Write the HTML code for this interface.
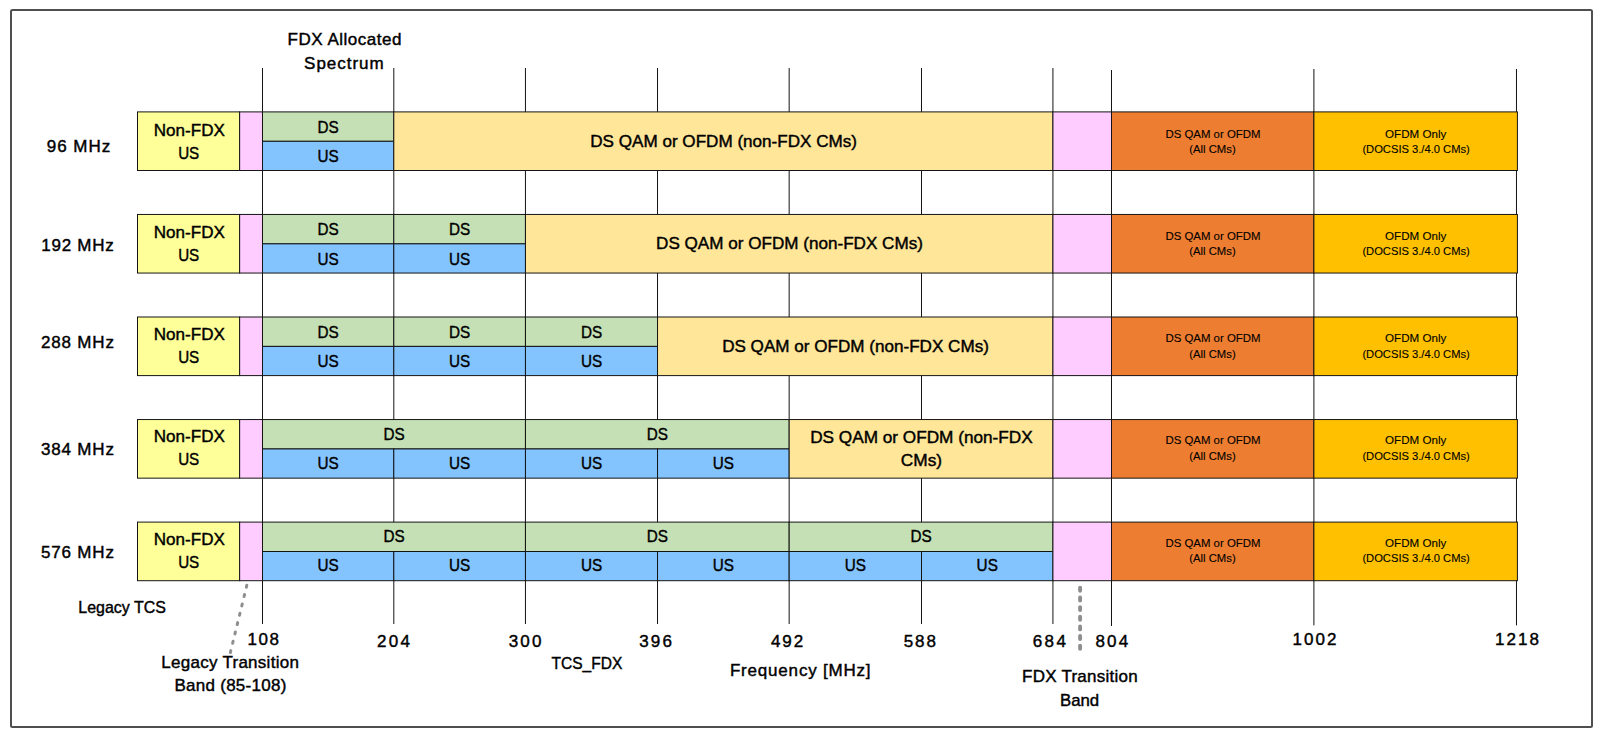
<!DOCTYPE html>
<html lang="en"><head><meta charset="utf-8"><title>FDX Allocated Spectrum</title>
<style>
html,body{margin:0;padding:0;background:#fff;}
body{width:1600px;height:737px;overflow:hidden;}
svg{display:block;}
svg text{font-family:"Liberation Sans", sans-serif;fill:#000;stroke:#000;stroke-width:0.42px;}
svg text.s{stroke-width:0.12px;}
</style></head><body>
<svg width="1600" height="737" viewBox="0 0 1600 737">
<rect x="0" y="0" width="1600" height="737" fill="#ffffff"/>
<rect x="11" y="10" width="1581" height="717" fill="none" stroke="#4f4f4f" stroke-width="2" rx="1.5"/>
<line x1="262.50" y1="68.00" x2="262.50" y2="624.00" stroke="#141414" stroke-width="1" />
<line x1="393.80" y1="68.00" x2="393.80" y2="624.00" stroke="#141414" stroke-width="1" />
<line x1="525.45" y1="68.00" x2="525.45" y2="624.00" stroke="#141414" stroke-width="1" />
<line x1="657.53" y1="68.00" x2="657.53" y2="624.00" stroke="#141414" stroke-width="1" />
<line x1="789.17" y1="68.00" x2="789.17" y2="624.00" stroke="#141414" stroke-width="1" />
<line x1="921.50" y1="68.00" x2="921.50" y2="624.00" stroke="#141414" stroke-width="1" />
<line x1="1052.93" y1="68.00" x2="1052.93" y2="624.00" stroke="#141414" stroke-width="1" />
<line x1="1111.50" y1="70.00" x2="1111.50" y2="626.00" stroke="#141414" stroke-width="1" />
<line x1="1313.90" y1="69.00" x2="1313.90" y2="625.40" stroke="#141414" stroke-width="1" />
<line x1="1516.48" y1="69.00" x2="1516.48" y2="625.40" stroke="#141414" stroke-width="1" />
<rect x="137.50" y="111.90" width="102.15" height="58.60" fill="#FFFF99" stroke="#141414" stroke-width="1"/>
<rect x="239.65" y="111.90" width="22.85" height="58.60" fill="#FFCCFF" stroke="#141414" stroke-width="1"/>
<rect x="262.50" y="111.90" width="131.30" height="29.40" fill="#C5E0B4" stroke="#141414" stroke-width="1"/>
<rect x="262.50" y="141.30" width="131.30" height="29.20" fill="#84C4FE" stroke="#141414" stroke-width="1"/>
<rect x="393.80" y="111.90" width="659.13" height="58.60" fill="#FFE699" stroke="#141414" stroke-width="1"/>
<rect x="1052.93" y="111.90" width="58.57" height="58.60" fill="#FFCCFF" stroke="#141414" stroke-width="1"/>
<rect x="1111.50" y="111.90" width="202.40" height="58.60" fill="#ED7D31" stroke="#141414" stroke-width="1"/>
<rect x="1313.90" y="111.90" width="203.50" height="58.60" fill="#FFC000" stroke="#141414" stroke-width="1"/>
<text x="153.75" y="135.60" font-size="17" textLength="71.10" lengthAdjust="spacingAndGlyphs">Non-FDX</text>
<text x="178.15" y="158.60" font-size="17" textLength="21.10" lengthAdjust="spacingAndGlyphs">US</text>
<text x="317.55" y="133.20" font-size="17" textLength="21.20" lengthAdjust="spacingAndGlyphs">DS</text>
<text x="317.55" y="162.30" font-size="17" textLength="21.20" lengthAdjust="spacingAndGlyphs">US</text>
<text x="590.26" y="147.10" font-size="17" textLength="266.80" lengthAdjust="spacingAndGlyphs">DS QAM or OFDM (non-FDX CMs)</text>
<text class="s" x="1165.45" y="137.60" font-size="11.8" textLength="95.10" lengthAdjust="spacingAndGlyphs">DS QAM or OFDM</text>
<text class="s" x="1189.35" y="153.10" font-size="11.8" textLength="46.30" lengthAdjust="spacingAndGlyphs">(All CMs)</text>
<text class="s" x="1385.10" y="137.60" font-size="11.8" textLength="61.20" lengthAdjust="spacingAndGlyphs">OFDM Only</text>
<text class="s" x="1362.40" y="153.10" font-size="11.8" textLength="107.40" lengthAdjust="spacingAndGlyphs">(DOCSIS 3./4.0 CMs)</text>
<rect x="137.50" y="214.45" width="102.15" height="58.60" fill="#FFFF99" stroke="#141414" stroke-width="1"/>
<rect x="239.65" y="214.45" width="22.85" height="58.60" fill="#FFCCFF" stroke="#141414" stroke-width="1"/>
<rect x="262.50" y="214.45" width="131.30" height="29.40" fill="#C5E0B4" stroke="#141414" stroke-width="1"/>
<rect x="393.80" y="214.45" width="131.65" height="29.40" fill="#C5E0B4" stroke="#141414" stroke-width="1"/>
<rect x="262.50" y="243.85" width="131.30" height="29.20" fill="#84C4FE" stroke="#141414" stroke-width="1"/>
<rect x="393.80" y="243.85" width="131.65" height="29.20" fill="#84C4FE" stroke="#141414" stroke-width="1"/>
<rect x="525.45" y="214.45" width="527.48" height="58.60" fill="#FFE699" stroke="#141414" stroke-width="1"/>
<rect x="1052.93" y="214.45" width="58.57" height="58.60" fill="#FFCCFF" stroke="#141414" stroke-width="1"/>
<rect x="1111.50" y="214.45" width="202.40" height="58.60" fill="#ED7D31" stroke="#141414" stroke-width="1"/>
<rect x="1313.90" y="214.45" width="203.50" height="58.60" fill="#FFC000" stroke="#141414" stroke-width="1"/>
<text x="153.75" y="237.87" font-size="17" textLength="71.10" lengthAdjust="spacingAndGlyphs">Non-FDX</text>
<text x="178.15" y="260.87" font-size="17" textLength="21.10" lengthAdjust="spacingAndGlyphs">US</text>
<text x="317.55" y="235.47" font-size="17" textLength="21.20" lengthAdjust="spacingAndGlyphs">DS</text>
<text x="449.03" y="235.47" font-size="17" textLength="21.20" lengthAdjust="spacingAndGlyphs">DS</text>
<text x="317.55" y="264.57" font-size="17" textLength="21.20" lengthAdjust="spacingAndGlyphs">US</text>
<text x="449.03" y="264.57" font-size="17" textLength="21.20" lengthAdjust="spacingAndGlyphs">US</text>
<text x="656.09" y="249.37" font-size="17" textLength="266.80" lengthAdjust="spacingAndGlyphs">DS QAM or OFDM (non-FDX CMs)</text>
<text class="s" x="1165.45" y="239.87" font-size="11.8" textLength="95.10" lengthAdjust="spacingAndGlyphs">DS QAM or OFDM</text>
<text class="s" x="1189.35" y="255.37" font-size="11.8" textLength="46.30" lengthAdjust="spacingAndGlyphs">(All CMs)</text>
<text class="s" x="1385.10" y="239.87" font-size="11.8" textLength="61.20" lengthAdjust="spacingAndGlyphs">OFDM Only</text>
<text class="s" x="1362.40" y="255.37" font-size="11.8" textLength="107.40" lengthAdjust="spacingAndGlyphs">(DOCSIS 3./4.0 CMs)</text>
<rect x="137.50" y="317.00" width="102.15" height="58.60" fill="#FFFF99" stroke="#141414" stroke-width="1"/>
<rect x="239.65" y="317.00" width="22.85" height="58.60" fill="#FFCCFF" stroke="#141414" stroke-width="1"/>
<rect x="262.50" y="317.00" width="131.30" height="29.40" fill="#C5E0B4" stroke="#141414" stroke-width="1"/>
<rect x="393.80" y="317.00" width="131.65" height="29.40" fill="#C5E0B4" stroke="#141414" stroke-width="1"/>
<rect x="525.45" y="317.00" width="132.08" height="29.40" fill="#C5E0B4" stroke="#141414" stroke-width="1"/>
<rect x="262.50" y="346.40" width="131.30" height="29.20" fill="#84C4FE" stroke="#141414" stroke-width="1"/>
<rect x="393.80" y="346.40" width="131.65" height="29.20" fill="#84C4FE" stroke="#141414" stroke-width="1"/>
<rect x="525.45" y="346.40" width="132.08" height="29.20" fill="#84C4FE" stroke="#141414" stroke-width="1"/>
<rect x="657.53" y="317.00" width="395.40" height="58.60" fill="#FFE699" stroke="#141414" stroke-width="1"/>
<rect x="1052.93" y="317.00" width="58.57" height="58.60" fill="#FFCCFF" stroke="#141414" stroke-width="1"/>
<rect x="1111.50" y="317.00" width="202.40" height="58.60" fill="#ED7D31" stroke="#141414" stroke-width="1"/>
<rect x="1313.90" y="317.00" width="203.50" height="58.60" fill="#FFC000" stroke="#141414" stroke-width="1"/>
<text x="153.75" y="340.14" font-size="17" textLength="71.10" lengthAdjust="spacingAndGlyphs">Non-FDX</text>
<text x="178.15" y="363.14" font-size="17" textLength="21.10" lengthAdjust="spacingAndGlyphs">US</text>
<text x="317.55" y="337.74" font-size="17" textLength="21.20" lengthAdjust="spacingAndGlyphs">DS</text>
<text x="449.03" y="337.74" font-size="17" textLength="21.20" lengthAdjust="spacingAndGlyphs">DS</text>
<text x="580.89" y="337.74" font-size="17" textLength="21.20" lengthAdjust="spacingAndGlyphs">DS</text>
<text x="317.55" y="366.84" font-size="17" textLength="21.20" lengthAdjust="spacingAndGlyphs">US</text>
<text x="449.03" y="366.84" font-size="17" textLength="21.20" lengthAdjust="spacingAndGlyphs">US</text>
<text x="580.89" y="366.84" font-size="17" textLength="21.20" lengthAdjust="spacingAndGlyphs">US</text>
<text x="722.13" y="351.64" font-size="17" textLength="266.80" lengthAdjust="spacingAndGlyphs">DS QAM or OFDM (non-FDX CMs)</text>
<text class="s" x="1165.45" y="342.14" font-size="11.8" textLength="95.10" lengthAdjust="spacingAndGlyphs">DS QAM or OFDM</text>
<text class="s" x="1189.35" y="357.64" font-size="11.8" textLength="46.30" lengthAdjust="spacingAndGlyphs">(All CMs)</text>
<text class="s" x="1385.10" y="342.14" font-size="11.8" textLength="61.20" lengthAdjust="spacingAndGlyphs">OFDM Only</text>
<text class="s" x="1362.40" y="357.64" font-size="11.8" textLength="107.40" lengthAdjust="spacingAndGlyphs">(DOCSIS 3./4.0 CMs)</text>
<rect x="137.50" y="419.55" width="102.15" height="58.60" fill="#FFFF99" stroke="#141414" stroke-width="1"/>
<rect x="239.65" y="419.55" width="22.85" height="58.60" fill="#FFCCFF" stroke="#141414" stroke-width="1"/>
<rect x="262.50" y="419.55" width="262.95" height="29.40" fill="#C5E0B4" stroke="#141414" stroke-width="1"/>
<rect x="525.45" y="419.55" width="263.72" height="29.40" fill="#C5E0B4" stroke="#141414" stroke-width="1"/>
<rect x="262.50" y="448.95" width="131.30" height="29.20" fill="#84C4FE" stroke="#141414" stroke-width="1"/>
<rect x="393.80" y="448.95" width="131.65" height="29.20" fill="#84C4FE" stroke="#141414" stroke-width="1"/>
<rect x="525.45" y="448.95" width="132.08" height="29.20" fill="#84C4FE" stroke="#141414" stroke-width="1"/>
<rect x="657.53" y="448.95" width="131.64" height="29.20" fill="#84C4FE" stroke="#141414" stroke-width="1"/>
<rect x="789.17" y="419.55" width="263.76" height="58.60" fill="#FFE699" stroke="#141414" stroke-width="1"/>
<rect x="1052.93" y="419.55" width="58.57" height="58.60" fill="#FFCCFF" stroke="#141414" stroke-width="1"/>
<rect x="1111.50" y="419.55" width="202.40" height="58.60" fill="#ED7D31" stroke="#141414" stroke-width="1"/>
<rect x="1313.90" y="419.55" width="203.50" height="58.60" fill="#FFC000" stroke="#141414" stroke-width="1"/>
<text x="153.75" y="442.41" font-size="17" textLength="71.10" lengthAdjust="spacingAndGlyphs">Non-FDX</text>
<text x="178.15" y="465.41" font-size="17" textLength="21.10" lengthAdjust="spacingAndGlyphs">US</text>
<text x="383.38" y="440.01" font-size="17" textLength="21.20" lengthAdjust="spacingAndGlyphs">DS</text>
<text x="646.71" y="440.01" font-size="17" textLength="21.20" lengthAdjust="spacingAndGlyphs">DS</text>
<text x="317.55" y="469.11" font-size="17" textLength="21.20" lengthAdjust="spacingAndGlyphs">US</text>
<text x="449.03" y="469.11" font-size="17" textLength="21.20" lengthAdjust="spacingAndGlyphs">US</text>
<text x="580.89" y="469.11" font-size="17" textLength="21.20" lengthAdjust="spacingAndGlyphs">US</text>
<text x="712.75" y="469.11" font-size="17" textLength="21.20" lengthAdjust="spacingAndGlyphs">US</text>
<text x="810.15" y="443.01" font-size="17" textLength="222.60" lengthAdjust="spacingAndGlyphs">DS QAM or OFDM (non-FDX</text>
<text x="900.85" y="465.76" font-size="17" textLength="41.20" lengthAdjust="spacingAndGlyphs">CMs)</text>
<text class="s" x="1165.45" y="444.41" font-size="11.8" textLength="95.10" lengthAdjust="spacingAndGlyphs">DS QAM or OFDM</text>
<text class="s" x="1189.35" y="459.91" font-size="11.8" textLength="46.30" lengthAdjust="spacingAndGlyphs">(All CMs)</text>
<text class="s" x="1385.10" y="444.41" font-size="11.8" textLength="61.20" lengthAdjust="spacingAndGlyphs">OFDM Only</text>
<text class="s" x="1362.40" y="459.91" font-size="11.8" textLength="107.40" lengthAdjust="spacingAndGlyphs">(DOCSIS 3./4.0 CMs)</text>
<rect x="137.50" y="522.10" width="102.15" height="58.60" fill="#FFFF99" stroke="#141414" stroke-width="1"/>
<rect x="239.65" y="522.10" width="22.85" height="58.60" fill="#FFCCFF" stroke="#141414" stroke-width="1"/>
<rect x="262.50" y="522.10" width="262.95" height="29.40" fill="#C5E0B4" stroke="#141414" stroke-width="1"/>
<rect x="525.45" y="522.10" width="263.72" height="29.40" fill="#C5E0B4" stroke="#141414" stroke-width="1"/>
<rect x="789.17" y="522.10" width="263.76" height="29.40" fill="#C5E0B4" stroke="#141414" stroke-width="1"/>
<rect x="262.50" y="551.50" width="131.30" height="29.20" fill="#84C4FE" stroke="#141414" stroke-width="1"/>
<rect x="393.80" y="551.50" width="131.65" height="29.20" fill="#84C4FE" stroke="#141414" stroke-width="1"/>
<rect x="525.45" y="551.50" width="132.08" height="29.20" fill="#84C4FE" stroke="#141414" stroke-width="1"/>
<rect x="657.53" y="551.50" width="131.64" height="29.20" fill="#84C4FE" stroke="#141414" stroke-width="1"/>
<rect x="789.17" y="551.50" width="132.33" height="29.20" fill="#84C4FE" stroke="#141414" stroke-width="1"/>
<rect x="921.50" y="551.50" width="131.43" height="29.20" fill="#84C4FE" stroke="#141414" stroke-width="1"/>
<rect x="1052.93" y="522.10" width="58.57" height="58.60" fill="#FFCCFF" stroke="#141414" stroke-width="1"/>
<rect x="1111.50" y="522.10" width="202.40" height="58.60" fill="#ED7D31" stroke="#141414" stroke-width="1"/>
<rect x="1313.90" y="522.10" width="203.50" height="58.60" fill="#FFC000" stroke="#141414" stroke-width="1"/>
<text x="153.75" y="544.68" font-size="17" textLength="71.10" lengthAdjust="spacingAndGlyphs">Non-FDX</text>
<text x="178.15" y="567.68" font-size="17" textLength="21.10" lengthAdjust="spacingAndGlyphs">US</text>
<text x="383.38" y="542.28" font-size="17" textLength="21.20" lengthAdjust="spacingAndGlyphs">DS</text>
<text x="646.71" y="542.28" font-size="17" textLength="21.20" lengthAdjust="spacingAndGlyphs">DS</text>
<text x="910.45" y="542.28" font-size="17" textLength="21.20" lengthAdjust="spacingAndGlyphs">DS</text>
<text x="317.55" y="571.38" font-size="17" textLength="21.20" lengthAdjust="spacingAndGlyphs">US</text>
<text x="449.03" y="571.38" font-size="17" textLength="21.20" lengthAdjust="spacingAndGlyphs">US</text>
<text x="580.89" y="571.38" font-size="17" textLength="21.20" lengthAdjust="spacingAndGlyphs">US</text>
<text x="712.75" y="571.38" font-size="17" textLength="21.20" lengthAdjust="spacingAndGlyphs">US</text>
<text x="844.74" y="571.38" font-size="17" textLength="21.20" lengthAdjust="spacingAndGlyphs">US</text>
<text x="976.62" y="571.38" font-size="17" textLength="21.20" lengthAdjust="spacingAndGlyphs">US</text>
<text class="s" x="1165.45" y="546.68" font-size="11.8" textLength="95.10" lengthAdjust="spacingAndGlyphs">DS QAM or OFDM</text>
<text class="s" x="1189.35" y="562.18" font-size="11.8" textLength="46.30" lengthAdjust="spacingAndGlyphs">(All CMs)</text>
<text class="s" x="1385.10" y="546.68" font-size="11.8" textLength="61.20" lengthAdjust="spacingAndGlyphs">OFDM Only</text>
<text class="s" x="1362.40" y="562.18" font-size="11.8" textLength="107.40" lengthAdjust="spacingAndGlyphs">(DOCSIS 3./4.0 CMs)</text>
<text x="46.70" y="151.90" font-size="17" textLength="63.45" lengthAdjust="spacing">96 MHz</text>
<text x="41.30" y="250.60" font-size="17" textLength="72.40" lengthAdjust="spacing">192 MHz</text>
<text x="41.00" y="347.70" font-size="17" textLength="72.90" lengthAdjust="spacing">288 MHz</text>
<text x="41.00" y="454.50" font-size="17" textLength="72.90" lengthAdjust="spacing">384 MHz</text>
<text x="41.00" y="557.70" font-size="17" textLength="72.90" lengthAdjust="spacing">576 MHz</text>
<text x="287.60" y="45.00" font-size="17" textLength="113.90" lengthAdjust="spacing">FDX Allocated</text>
<text x="304.10" y="69.40" font-size="17" textLength="79.55" lengthAdjust="spacing">Spectrum</text>
<text x="78.30" y="613.00" font-size="17" textLength="87.60" lengthAdjust="spacingAndGlyphs">Legacy TCS</text>
<text x="161.30" y="668.40" font-size="17" textLength="137.60" lengthAdjust="spacing">Legacy Transition</text>
<text x="174.40" y="691.20" font-size="17" textLength="112.00" lengthAdjust="spacing">Band (85-108)</text>
<text x="551.50" y="668.90" font-size="17" textLength="70.90" lengthAdjust="spacingAndGlyphs">TCS_FDX</text>
<text x="729.90" y="676.30" font-size="17" textLength="140.70" lengthAdjust="spacing">Frequency [MHz]</text>
<text x="1022.00" y="681.90" font-size="17" textLength="115.70" lengthAdjust="spacing">FDX Transition</text>
<text x="1060.00" y="705.60" font-size="17" textLength="39.20" lengthAdjust="spacingAndGlyphs">Band</text>
<text x="247.40" y="645.00" font-size="17" textLength="31.50" lengthAdjust="spacing">108</text>
<text x="377.10" y="646.80" font-size="17" textLength="32.80" lengthAdjust="spacing">204</text>
<text x="508.70" y="646.80" font-size="17" textLength="32.80" lengthAdjust="spacing">300</text>
<text x="639.20" y="646.80" font-size="17" textLength="32.70" lengthAdjust="spacing">396</text>
<text x="770.90" y="646.80" font-size="17" textLength="32.30" lengthAdjust="spacing">492</text>
<text x="903.80" y="646.80" font-size="17" textLength="32.10" lengthAdjust="spacing">588</text>
<text x="1032.80" y="646.80" font-size="17" textLength="33.10" lengthAdjust="spacing">684</text>
<text x="1095.50" y="646.80" font-size="17" textLength="32.70" lengthAdjust="spacing">804</text>
<text x="1292.50" y="645.40" font-size="17" textLength="44.00" lengthAdjust="spacing">1002</text>
<text x="1495.10" y="645.40" font-size="17" textLength="43.90" lengthAdjust="spacing">1218</text>
<line x1="246.84" y1="585.23" x2="230.36" y2="652.57" stroke="#8e8e8e" stroke-width="3.0" stroke-dasharray="2 7.62" stroke-linecap="round"/>
<line x1="1080.10" y1="587.80" x2="1080.10" y2="649.10" stroke="#8e8e8e" stroke-width="3.9" stroke-dasharray="3.0 6.65" stroke-linecap="round"/>
</svg>
</body></html>
